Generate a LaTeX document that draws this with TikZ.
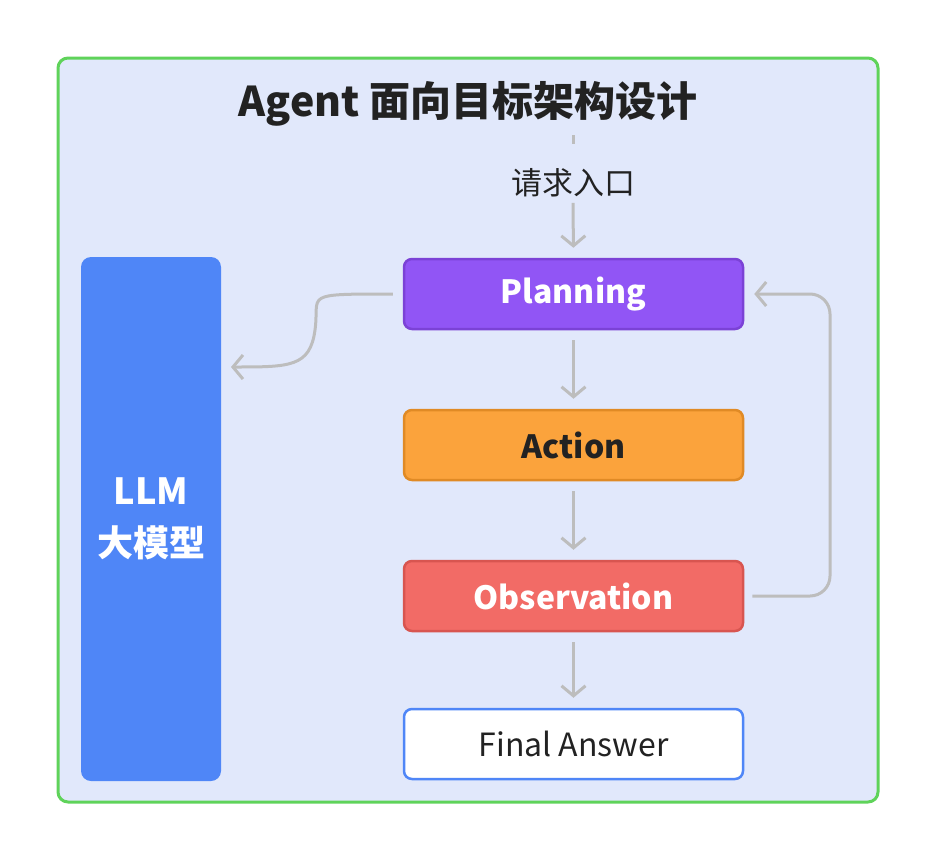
\documentclass[tikz,border=0pt]{standalone}
\usepackage{fontspec}
\setmainfont{Noto Sans CJK SC}
\usetikzlibrary{arrows.meta}
\definecolor{bgblue}{HTML}{E1E8FB}
\definecolor{gborder}{HTML}{5FD35A}
\definecolor{purp}{HTML}{9155F5}
\definecolor{purpb}{HTML}{7B42D6}
\definecolor{orng}{HTML}{FBA33C}
\definecolor{orngb}{HTML}{E08A25}
\definecolor{redd}{HTML}{F26B66}
\definecolor{reddb}{HTML}{D85550}
\definecolor{llmblue}{HTML}{4F86F7}
\definecolor{arr}{HTML}{BDBDBD}
\definecolor{txt}{HTML}{222222}
\tikzset{
 x=1pt,y=-1pt,
 stepbox/.style={rounded corners=8pt,line width=2.5pt,minimum width=339pt,minimum height=70pt,font=\bfseries\fontsize{32}{36}\selectfont},
 conn/.style={draw=arr,line width=3pt,-{Straight Barb[length=10pt,width=24pt]},shorten >=10pt,shorten <=10pt},
}
\begin{document}
\begin{tikzpicture}
\useasboundingbox (0,0) rectangle (937,862);
\draw[gborder,fill=bgblue,line width=3pt,rounded corners=10pt] (58,58) rectangle (878,802);
\node[font=\bfseries\fontsize{41}{46}\selectfont,text=txt] (title) at (468,104) {Agent 面向目标架构设计};
\node[draw=none,fill=llmblue,rounded corners=10pt,minimum width=140pt,minimum height=524pt,text=white,align=center,font=\bfseries\fontsize{36}{52}\selectfont] (llm) at (151,519) {LLM\\大模型};
\node[stepbox,draw=purpb,fill=purp,text=white] (plan) at (573.5,294) {Planning};
\node[stepbox,draw=orngb,fill=orng,text=txt] (act) at (573.5,445) {Action};
\node[stepbox,draw=reddb,fill=redd,text=white] (obs) at (573.5,596) {Observation};
\node[stepbox,draw=llmblue,fill=white,text=txt,font=\fontsize{32}{36}\selectfont] (fin) at (573.5,744) {Final Answer};
\node[font=\fontsize{31}{34}\selectfont,text=txt] (req) at (573,183) {请求入口};
\coordinate (top) at (573,135);
\draw[arr,line width=3pt,dash pattern=on 9pt off 9pt] (top) -- (573,150);
\draw[conn,shorten <=2pt] (req.south) -- (plan.north);
\draw[conn] (plan.south) -- (act.north);
\draw[conn] (act.south) -- (obs.north);
\draw[conn] (obs.south) -- (fin.north);
\draw[conn,shorten >=0pt] (plan.west) .. controls (300,294) and (320,294) .. (315,330) .. controls (310,367) and (290,367) .. (231,367);
\draw[conn,rounded corners=20pt,shorten <=8pt] (obs.east) -- (830,596) -- (830,294) -- (plan.east);
\end{tikzpicture}
\end{document}
